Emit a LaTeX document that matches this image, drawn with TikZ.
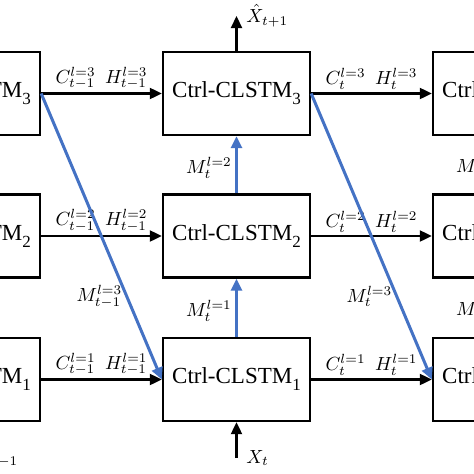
\documentclass[tikz,border=0pt]{standalone}
\usepackage{fontspec}
\setmainfont{Liberation Serif}
\usetikzlibrary{arrows.meta}
\definecolor{ctrlblue}{RGB}{68,114,196}
\newcommand{\lay}[1]{\raisebox{-7pt}{\fontsize{17}{17}\selectfont #1}}

\begin{document}
\begin{tikzpicture}[x=1pt, y=-1pt,
    box/.style={draw=black, line width=2.4pt, minimum width=147pt, minimum height=83pt, inner sep=0pt, font=\fontsize{23}{27}\selectfont},
    lab/.style={text=black, font=\fontsize{10}{12}\selectfont, scale=1.9, inner sep=1pt},
    pass/.style={line width=2.2pt, -{Triangle[length=12pt,width=11pt]}},
    mem/.style={line width=3pt, ctrlblue, -{Triangle[length=12pt,width=11pt]}}]
  \useasboundingbox (0,0) rectangle (474,474);
  \clip (0,0) rectangle (474,474);

  % left column (t-1)
  \node[box] (l3) at (-33.5,93.5) {Ctrl-CLSTM\lay{3}};
  \node[box] (l2) at (-33.5,236) {Ctrl-CLSTM\lay{2}};
  \node[box] (l1) at (-33.5,379.5) {Ctrl-CLSTM\lay{1}};
  % middle column (t)
  \node[box] (m3) at (236.5,93.5) {Ctrl-CLSTM\lay{3}};
  \node[box] (m2) at (236.5,236) {Ctrl-CLSTM\lay{2}};
  \node[box] (m1) at (236.5,379.5) {Ctrl-CLSTM\lay{1}};
  % right column (t+1)
  \node[box] (r3) at (506.5,93.5) {Ctrl-CLSTM\lay{3}};
  \node[box] (r2) at (506.5,236) {Ctrl-CLSTM\lay{2}};
  \node[box] (r1) at (506.5,379.5) {Ctrl-CLSTM\lay{1}};

  % cell and hidden states
  \draw[pass] (l3) -- (m3) node[midway, above, lab] {$C_{t-1}^{l=3}\enspace H_{t-1}^{l=3}$};
  \draw[pass] (l2) -- (m2) node[midway, above, lab] {$C_{t-1}^{l=2}\enspace H_{t-1}^{l=2}$};
  \draw[pass] (l1) -- (m1) node[midway, above, lab] {$C_{t-1}^{l=1}\enspace H_{t-1}^{l=1}$};
  \draw[pass] (m3) -- (r3) node[midway, above, lab] {$C_{t}^{l=3}\enspace H_{t}^{l=3}$};
  \draw[pass] (m2) -- (r2) node[midway, above, lab] {$C_{t}^{l=2}\enspace H_{t}^{l=2}$};
  \draw[pass] (m1) -- (r1) node[midway, above, lab] {$C_{t}^{l=1}\enspace H_{t}^{l=1}$};

  % memory flow
  \draw[mem] (m1) -- (m2) node[pos=0.45, left, lab] {$M_{t}^{l=1}$};
  \draw[mem] (m2) -- (m3) node[pos=0.45, left, lab] {$M_{t}^{l=2}$};
  \draw[mem] (r1) -- (r2) node[pos=0.45, left, lab] {$M_{t+1}^{l=1}$};
  \draw[mem] (r2) -- (r3) node[pos=0.45, left, lab] {$M_{t+1}^{l=2}$};
  \draw[mem] (l3.east) -- (m1.west) node[pos=0.71, left, lab] {$M_{t-1}^{l=3}$};
  \draw[mem] (m3.east) -- (r1.west) node[pos=0.71, left, lab] {$M_{t}^{l=3}$};

  % input and output
  \coordinate (out) at (236.5,16);
  \coordinate (in) at (236.5,458);
  \coordinate (inl) at (-33.5,458);
  \draw[pass] (m3) -- (out);
  \draw[pass] (in) -- (m1);
  \draw[pass] (inl) -- (l1);
  \node[lab, right, xshift=4pt] (xh) at (out) {$\hat{X}_{t+1}$};
  \node[lab, right, xshift=4pt] (xt) at (in) {$X_{t}$};
  \node[lab, right, xshift=4pt] (xl) at (inl) {$X_{t-1}$};
\end{tikzpicture}
\end{document}
